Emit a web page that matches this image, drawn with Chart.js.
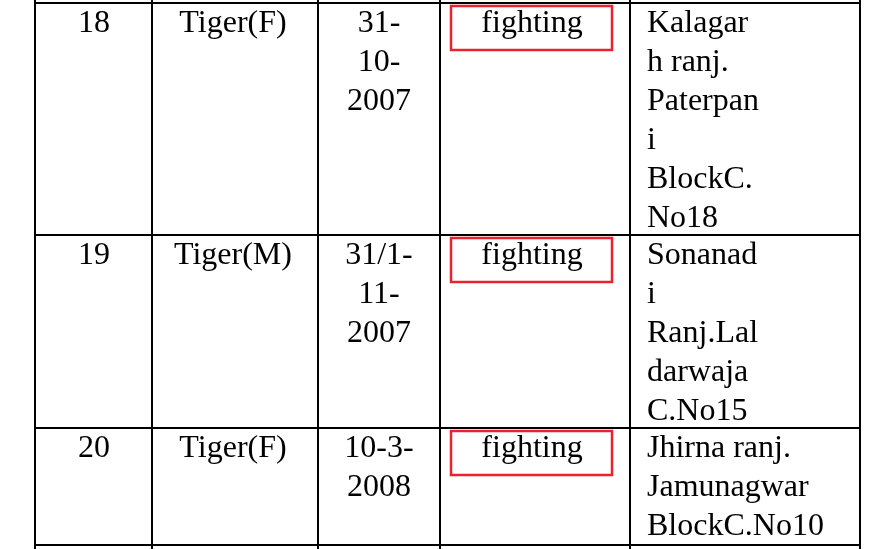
<!DOCTYPE html>
<html lang="en">
<head>
<meta charset="UTF-8">
<title>Tiger table</title>
<script src="https://cdn.jsdelivr.net/npm/chart.js@4.4.0/dist/chart.umd.min.js"></script>
<style>
  html, body { margin: 0; padding: 0; background: #fff; }
</style>
</head>
<body>
<canvas id="chart" width="892" height="549"></canvas>
<script>
// table data
var serials = ['18', '19', '20'];
var species = ['Tiger(F)', 'Tiger(M)', 'Tiger(F)'];
var dates = [['31-', '10-', '2007'], ['31/1-', '11-', '2007'], ['10-3-', '2008']];
var causes = ['fighting', 'fighting', 'fighting'];
var places = [
    ['Kalagar', 'h ranj.', 'Paterpan', 'i', 'BlockC.', 'No18'],
    ['Sonanad', 'i', 'Ranj.Lal', 'darwaja', 'C.No15'],
    ['Jhirna ranj.', 'Jamunagwar', 'BlockC.No10']
];

// grid in page units (scale values)
var colEdges = [35, 152, 318, 440, 630, 860];
var rowEdges = [3, 235, 428, 545];
var lineH = 39;

var tablePlugin = {
    id: 'table',
    afterDraw: function (chart) {
        var ctx = chart.ctx;
        var x = chart.scales.x, y = chart.scales.y;
        ctx.save();
        ctx.strokeStyle = '#000';
        ctx.lineWidth = 2;
        rowEdges.forEach(function (r) {
            ctx.beginPath();
            ctx.moveTo(x.getPixelForValue(colEdges[0]), y.getPixelForValue(r));
            ctx.lineTo(x.getPixelForValue(colEdges[colEdges.length - 1]), y.getPixelForValue(r));
            ctx.stroke();
        });
        colEdges.forEach(function (c) {
            ctx.beginPath();
            ctx.moveTo(x.getPixelForValue(c), y.getPixelForValue(0));
            ctx.lineTo(x.getPixelForValue(c), y.getPixelForValue(549));
            ctx.stroke();
        });

        ctx.fillStyle = '#000';
        ctx.font = '32px "Liberation Serif", "DejaVu Serif", serif';
        ctx.textBaseline = 'middle';
        for (var i = 0; i < serials.length; i++) {
            var top = rowEdges[i] + 21;
            ctx.textAlign = 'center';
            ctx.fillText(serials[i], x.getPixelForValue(94), y.getPixelForValue(top));
            ctx.fillText(species[i], x.getPixelForValue(233), y.getPixelForValue(top));
            dates[i].forEach(function (t, k) {
                ctx.fillText(t, x.getPixelForValue(379), y.getPixelForValue(top + k * lineH));
            });
            ctx.fillText(causes[i], x.getPixelForValue(532), y.getPixelForValue(top));
            ctx.textAlign = 'left';
            places[i].forEach(function (t, k) {
                ctx.fillText(t, x.getPixelForValue(647), y.getPixelForValue(top + k * lineH));
            });
            ctx.strokeStyle = '#e8232e';
            ctx.lineWidth = 2.5;
            var x0 = x.getPixelForValue(451), x1 = x.getPixelForValue(612);
            var y0 = y.getPixelForValue(rowEdges[i] + 3), y1 = y.getPixelForValue(rowEdges[i] + 47);
            ctx.strokeRect(x0, y0, x1 - x0, y1 - y0);
        }
        ctx.restore();
    }
};

new Chart(document.getElementById('chart').getContext('2d'), {
    type: 'scatter',
    data: { datasets: [{ data: [], showLine: false }] },
    options: {
        responsive: false,
        animation: false,
        layout: { padding: 0 },
        plugins: { legend: { display: false }, tooltip: { enabled: false } },
        scales: {
            x: { type: 'linear', min: 0, max: 892, display: false },
            y: { type: 'linear', min: 0, max: 549, reverse: true, display: false }
        }
    },
    plugins: [tablePlugin]
});
</script>
</body>
</html>
